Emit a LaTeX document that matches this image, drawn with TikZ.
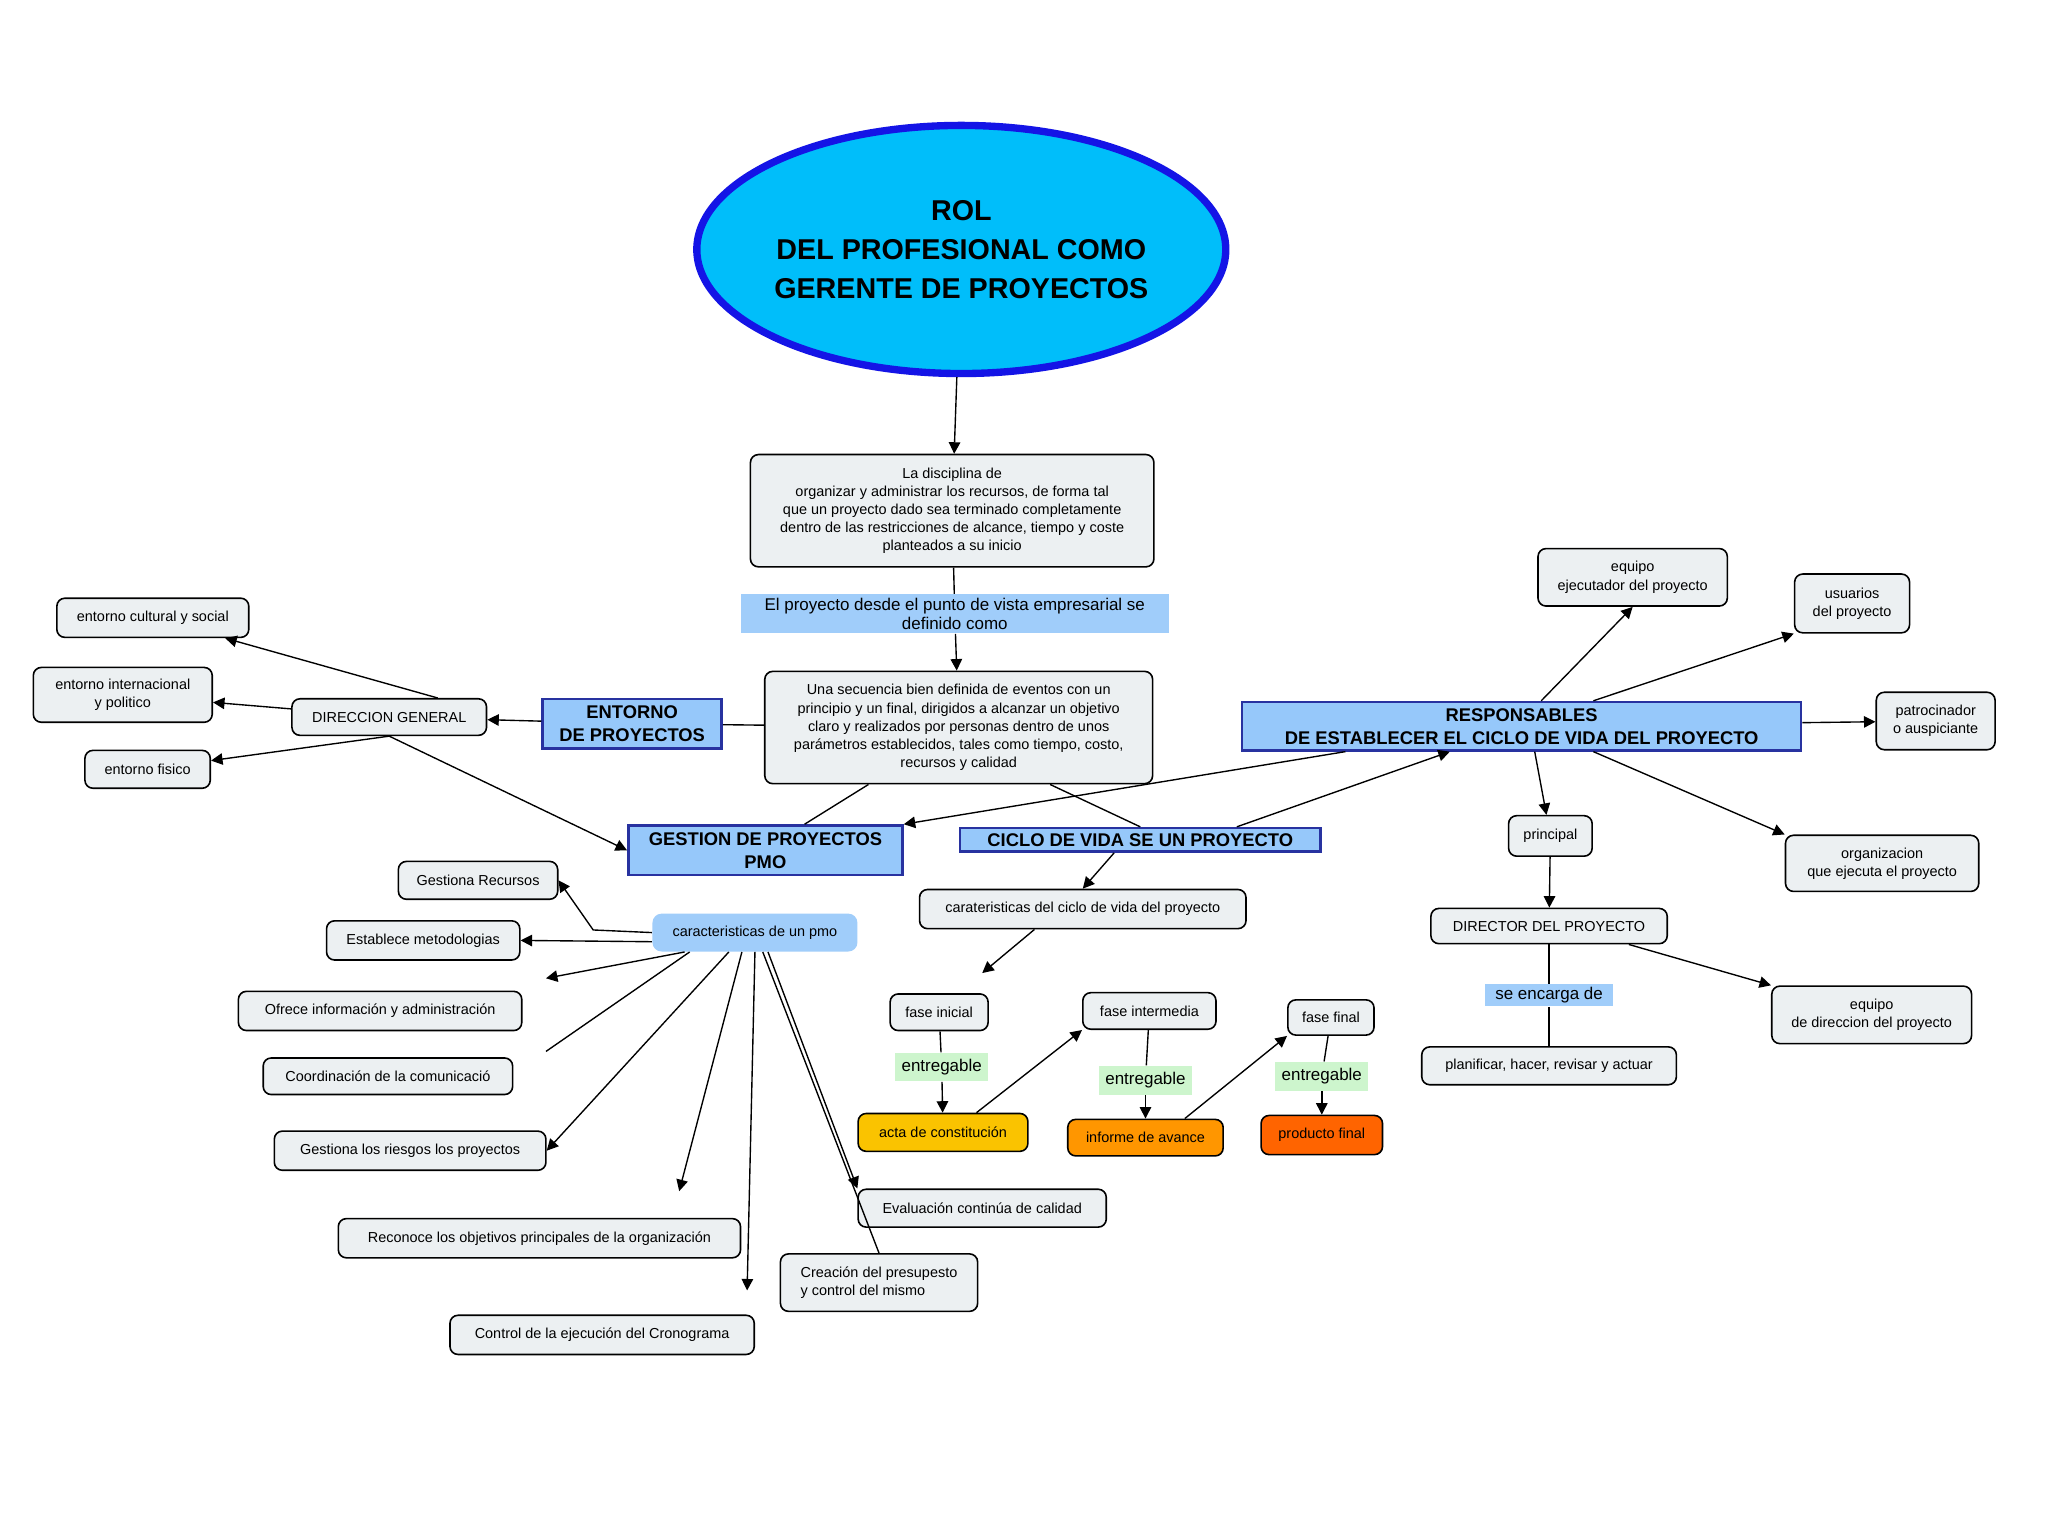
\documentclass[tikz,border=0pt]{standalone}
\usepackage{fontspec}
\setmainfont{Liberation Sans}
\usetikzlibrary{shapes.geometric,arrows.meta,calc}
\definecolor{boxfill}{RGB}{236,240,242}
\definecolor{hblue}{RGB}{150,200,250}
\definecolor{lblue}{RGB}{160,205,250}
\definecolor{dblue}{RGB}{40,50,160}
\definecolor{ecyan}{RGB}{0,190,250}
\definecolor{eblue}{RGB}{20,20,230}
\definecolor{lgreen}{RGB}{205,245,205}
\definecolor{gold}{RGB}{250,195,0}
\definecolor{orng}{RGB}{255,150,0}
\definecolor{dorng}{RGB}{255,100,0}
\tikzset{
 base/.style={inner sep=0pt, align=center, font=\fontsize{6.3}{7.9}\selectfont},
 box/.style={base, draw, line width=0.7pt, rounded corners=3.5pt, fill=boxfill},
 hbox/.style={base, draw=dblue, line width=1.1pt, fill=hblue, font=\fontsize{8}{10}\selectfont\bfseries},
 lab/.style={base, fill=lblue, font=\fontsize{7.4}{8.6}\selectfont},
 glab/.style={base, fill=lgreen, font=\fontsize{7.4}{8.6}\selectfont, minimum width=1.42cm, minimum height=0.44cm},
 ar/.style={-{Triangle[length=5pt,width=5pt]}, line width=0.6pt},
 ln/.style={line width=0.6pt},
 wh/.style 2 args={minimum width=#1cm, minimum height=#2cm},
}
\begin{document}
\begin{tikzpicture}[x=0.02cm,y=-0.02cm]
\useasboundingbox (0,0) rectangle (1568,1176);
\fill[white] (0,0) rectangle (1568,1176);
% title
\node[ellipse, draw=eblue, line width=3.2pt, fill=ecyan, minimum width=7.6cm, minimum height=3.8cm, align=center, font=\fontsize{12.5}{17}\selectfont\bfseries, inner sep=0pt] (rol) at (736,191) {ROL\\DEL PROFESIONAL COMO\\GERENTE DE PROYECTOS};
\node[box, wh={6.18}{1.72}] (disc) at (729,391) {La disciplina de\\organizar y administrar los recursos, de forma tal\\que un proyecto dado sea terminado completamente\\dentro de las restricciones de alcance, tiempo y coste\\planteados a su inicio};
\node[lab, wh={6.56}{0.6}] (empr) at (731,470) {El proyecto desde el punto de vista empresarial se\\definido como};
\node[box, wh={5.94}{1.72}] (sec) at (734,557) {Una secuencia bien definida de eventos con un\\principio y un final, dirigidos a alcanzar un objetivo\\claro y realizados por personas dentro de unos\\parámetros establecidos, tales como tiempo, costo,\\recursos y calidad};
\node[hbox, wh={2.74}{0.76}] (ent) at (484,554) {ENTORNO\\DE PROYECTOS};
\node[box, wh={2.98}{0.56}] (dir) at (298,549) {DIRECCION GENERAL};
\node[box, wh={2.94}{0.6}] (cult) at (117,473) {entorno cultural y social};
\node[box, wh={2.74}{0.84}] (intl) at (94,532) {entorno internacional\\y politico};
\node[box, wh={1.92}{0.58}] (fis) at (113,589) {entorno fisico};
\node[hbox, wh={4.2}{0.76}] (gest) at (586,651) {GESTION DE PROYECTOS\\PMO};
\node[base, fill=lblue, rounded corners=4pt, wh={3.14}{0.58}] (cpmo) at (578,714) {caracteristicas de un pmo};
\node[box, wh={2.44}{0.58}] (grec) at (366,674) {Gestiona Recursos};
\node[box, wh={2.96}{0.6}] (est) at (324,720) {Establece metodologias};
\node[box, wh={4.34}{0.6}] (ofr) at (291,774) {Ofrece información y administración};
\node[box, wh={3.82}{0.56}] (coor) at (297,824) {Coordinación de la comunicació};
\node[box, wh={4.16}{0.6}] (ries) at (314,881) {Gestiona los riesgos los proyectos};
\node[box, wh={6.16}{0.6}] (rec) at (413,948) {Reconoce los objetivos principales de la organización};
\node[box, wh={4.66}{0.6}] (crono) at (461,1022) {Control de la ejecución del Cronograma};
\node[box, wh={3.02}{0.88}, align=left] (pres) at (673,982) {Creación del presupesto\\y control del mismo};
\node[box, wh={3.8}{0.58}] (eval) at (752,925) {Evaluación continúa de calidad};
\node[hbox, wh={5.52}{0.36}] (ciclo) at (873,643) {CICLO DE VIDA SE UN PROYECTO};
\node[box, wh={5.0}{0.6}] (cara) at (829,696) {carateristicas del ciclo de vida del proyecto};
\node[box, wh={1.5}{0.56}] (fini) at (719,775) {fase inicial};
\node[glab] (e1) at (721,817) {entregable};
\node[box, fill=gold, wh={2.6}{0.58}] (acta) at (722,867) {acta de constitución};
\node[box, wh={2.04}{0.56}] (fint) at (880,774) {fase intermedia};
\node[glab] (e2) at (877,827) {entregable};
\node[box, fill=orng, wh={2.38}{0.56}] (inf) at (877,871) {informe de avance};
\node[box, wh={1.32}{0.54}] (ffin) at (1019,779) {fase final};
\node[glab] (e3) at (1012,824) {entregable};
\node[box, fill=dorng, wh={1.86}{0.6}] (prod) at (1012,869) {producto final};
\node[hbox, wh={8.56}{0.74}] (resp) at (1165,556) {RESPONSABLES\\DE ESTABLECER EL CICLO DE VIDA DEL PROYECTO};
\node[box, wh={2.9}{0.88}] (eje) at (1250,442) {equipo\\ejecutador del proyecto};
\node[box, wh={1.76}{0.9}] (usu) at (1418,462) {usuarios\\del proyecto};
\node[box, wh={1.82}{0.88}] (pat) at (1482,552) {patrocinador\\o auspiciante};
\node[box, wh={2.96}{0.86}] (org) at (1441,661) {organizacion\\que ejecuta el proyecto};
\node[box, wh={1.28}{0.62}] (pri) at (1187,640) {principal};
\node[box, wh={3.62}{0.54}] (dirp) at (1186,709) {DIRECTOR DEL PROYECTO};
\node[lab, wh={1.96}{0.34}] (enc) at (1186,762) {se encarga de};
\node[box, wh={3.9}{0.58}] (plan) at (1186,816) {planificar, hacer, revisar y actuar};
\node[box, wh={3.06}{0.88}] (edir) at (1433,777) {equipo\\de direccion del proyecto};
% free ends
\coordinate (tOfr) at (418,749);
\coordinate (tCoor) at (418,805);
\coordinate (tRec) at (520,912);
\coordinate (tCro) at (572,988);
\coordinate (tFi) at (752,745);
% connectors
\draw[ar] (rol) -- (disc);
\draw[ln] (disc) -- (empr);
\draw[ar] (empr) -- (sec);
\draw[ln] (sec) -- (ent);
\draw[ar] (ent) -- (dir);
\draw[ar] ($(dir.north east)+(-38,0)$) -- (cult);
\draw[ar] (dir) -- (intl);
\draw[ar] (dir.south) -- (fis);
\draw[ar] (dir.south) -- (gest.west);
\draw[ln] ($(sec.south west)+(80,0)$) -- ($(gest.north)+(30,0)$);
\draw[ln] ($(sec.south)+(70,0)$) -- (ciclo.north);
\draw[ar] ($(resp.south west)+(80,0)$) -- (gest.north east);
\draw[ar] ($(ciclo.north east)+(-65,0)$) -- ($(resp.south)+(-55,0)$);
\draw[ar] ($(ciclo.south)+(-20,0)$) -- (cara.north);
\draw[ar] ($(cara.south)+(-37,0)$) -- (tFi);
\draw[ln] (fini) -- (e1);
\draw[ar] (e1) -- (acta);
\draw[ar] ($(acta.north east)+(-40,0)$) -- (fint.south west);
\draw[ln] (fint) -- (e2);
\draw[ar] (e2) -- (inf);
\draw[ar] ($(inf.north east)+(-30,0)$) -- (ffin.south west);
\draw[ln] (ffin) -- (e3);
\draw[ar] (e3) -- (prod);
\draw[ar] ($(resp.north)+(15,0)$) -- (eje.south);
\draw[ar] ($(resp.north east)+(-160,0)$) -- (usu.south west);
\draw[ar] (resp) -- (pat);
\draw[ar] ($(resp.south east)+(-160,0)$) -- (org.north west);
\draw[ar] ($(resp.south)+(10,0)$) -- (pri);
\draw[ar] (pri) -- (dirp);
\draw[ln] (dirp) -- (enc);
\draw[ln] (enc) -- (plan);
\draw[ar] ($(dirp.south east)+(-30,0)$) -- (edir.north west);
% pmo characteristics
\draw[ar] (cpmo.west) -- ++(-45,-2) -- (grec.east);
\draw[ar] ($(cpmo.west)+(0,7)$) -- (est.east);
\draw[ar] ($(cpmo.south west)+(25,0)$) -- (tOfr);
\draw[ln] ($(cpmo.south)+(-50,0)$) -- (tCoor);
\draw[ar] ($(cpmo.south)+(-20,0)$) -- (ries.east);
\draw[ar] ($(cpmo.south)+(-10,0)$) -- (tRec);
\draw[ar] (cpmo.south) -- (tCro);
\draw[ln] ($(cpmo.south)+(6,0)$) -- (pres.north);
\draw[ar] ($(cpmo.south)+(10,0)$) -- (eval.north west);
\end{tikzpicture}
\end{document}
